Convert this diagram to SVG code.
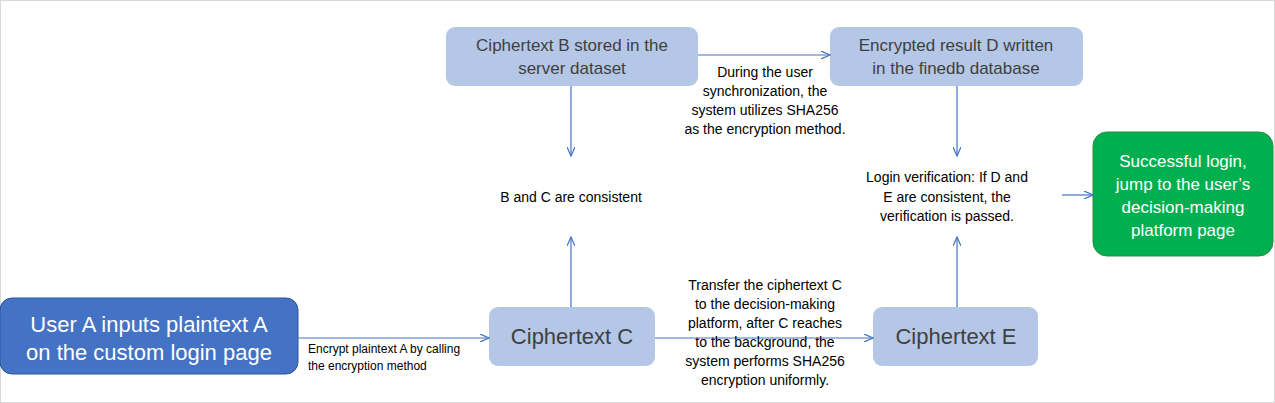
<svg xmlns="http://www.w3.org/2000/svg" width="1275" height="403" viewBox="0 0 1275 403">
<defs>
<marker id="ah" markerWidth="10" markerHeight="8" refX="9" refY="4" orient="auto" markerUnits="userSpaceOnUse"><path d="M0,0 L9,4 L0,8" fill="none" stroke="#4472c4" stroke-width="1.2"/></marker>
<style>
.n{fill:#b4c7e7;}
.t{font-family:"Liberation Sans",Arial,sans-serif;fill:#404040;text-anchor:middle;}
.s{font-family:"Liberation Sans",Arial,sans-serif;fill:#000;text-anchor:middle;font-size:14px;}
.c{stroke:#4472c4;stroke-width:1.2;fill:none;marker-end:url(#ah);}
</style>
</defs>
<rect x="0.5" y="0.5" width="1274" height="402" fill="#fff" stroke="#d9d9d9"/>
<g id="nodeB"><rect class="n" x="446" y="27" width="252" height="59" rx="9"/><text class="t" font-size="17"><tspan x="572" y="51">Ciphertext B stored in the</tspan><tspan x="572" y="74">server dataset</tspan></text></g>
<g id="nodeD"><rect class="n" x="830" y="27" width="253" height="59" rx="9"/><text class="t" font-size="17"><tspan x="956" y="51">Encrypted result D written</tspan><tspan x="956" y="74">in the finedb database</tspan></text></g>
<g id="nodeBC"><text class="s" x="571" y="202">B and C are consistent</text></g>
<g id="nodeLogin"><text class="s"><tspan x="947" y="182">Login verification: If D and</tspan><tspan x="947" y="202">E are consistent, the</tspan><tspan x="947" y="221">verification is passed.</tspan></text></g>
<g id="nodeOK"><rect x="1093" y="132" width="180" height="124" rx="14" fill="#00b050" stroke="#2e8b3f"/><text font-family="Liberation Sans,Arial,sans-serif" font-size="17" fill="#fff" text-anchor="middle"><tspan x="1183" y="167">Successful login,</tspan><tspan x="1183" y="190">jump to the user’s</tspan><tspan x="1183" y="213">decision-making</tspan><tspan x="1183" y="236">platform page</tspan></text></g>
<g id="nodeA"><rect x="0" y="298" width="298" height="76" rx="12" fill="#4472c4" stroke="#2f5597"/><text font-family="Liberation Sans,Arial,sans-serif" font-size="22" fill="#fff" text-anchor="middle"><tspan x="149" y="332">User A inputs plaintext A</tspan><tspan x="149" y="360">on the custom login page</tspan></text></g>
<g id="nodeC"><rect class="n" x="489" y="307" width="166" height="59" rx="9"/><text class="t" font-size="22" x="572" y="344">Ciphertext C</text></g>
<g id="nodeE"><rect class="n" x="873" y="307" width="165" height="59" rx="9"/><text class="t" font-size="22" x="956" y="344">Ciphertext E</text></g>
<g id="connectors">
<line class="c" x1="571" y1="86" x2="571" y2="156"/>
<line class="c" x1="571" y1="307" x2="571" y2="237"/>
<line class="c" x1="957" y1="307" x2="957" y2="237"/>
<line class="c" x1="957" y1="86" x2="957" y2="156"/>
<line class="c" x1="698" y1="55" x2="830" y2="55"/>
<line class="c" x1="298" y1="338" x2="489" y2="338"/>
<line class="c" x1="655" y1="338" x2="873" y2="338"/>
<line class="c" x1="1062" y1="195" x2="1093" y2="195"/>
<text class="s" font-size="14"><tspan x="765" y="77">During the user</tspan><tspan x="765" y="96">synchronization, the</tspan><tspan x="765" y="115">system utilizes SHA256</tspan><tspan x="765" y="134">as the encryption method.</tspan></text>
<text font-family="Liberation Sans,Arial,sans-serif" font-size="12" fill="#000"><tspan x="308" y="353">Encrypt plaintext A by calling</tspan><tspan x="308" y="370">the encryption method</tspan></text>
<text class="s"><tspan x="765" y="290">Transfer the ciphertext C</tspan><tspan x="765" y="309">to the decision-making</tspan><tspan x="765" y="328">platform, after C reaches</tspan><tspan x="765" y="347">to the background, the</tspan><tspan x="765" y="366">system performs SHA256</tspan><tspan x="765" y="385">encryption uniformly.</tspan></text>
</g>
</svg>
